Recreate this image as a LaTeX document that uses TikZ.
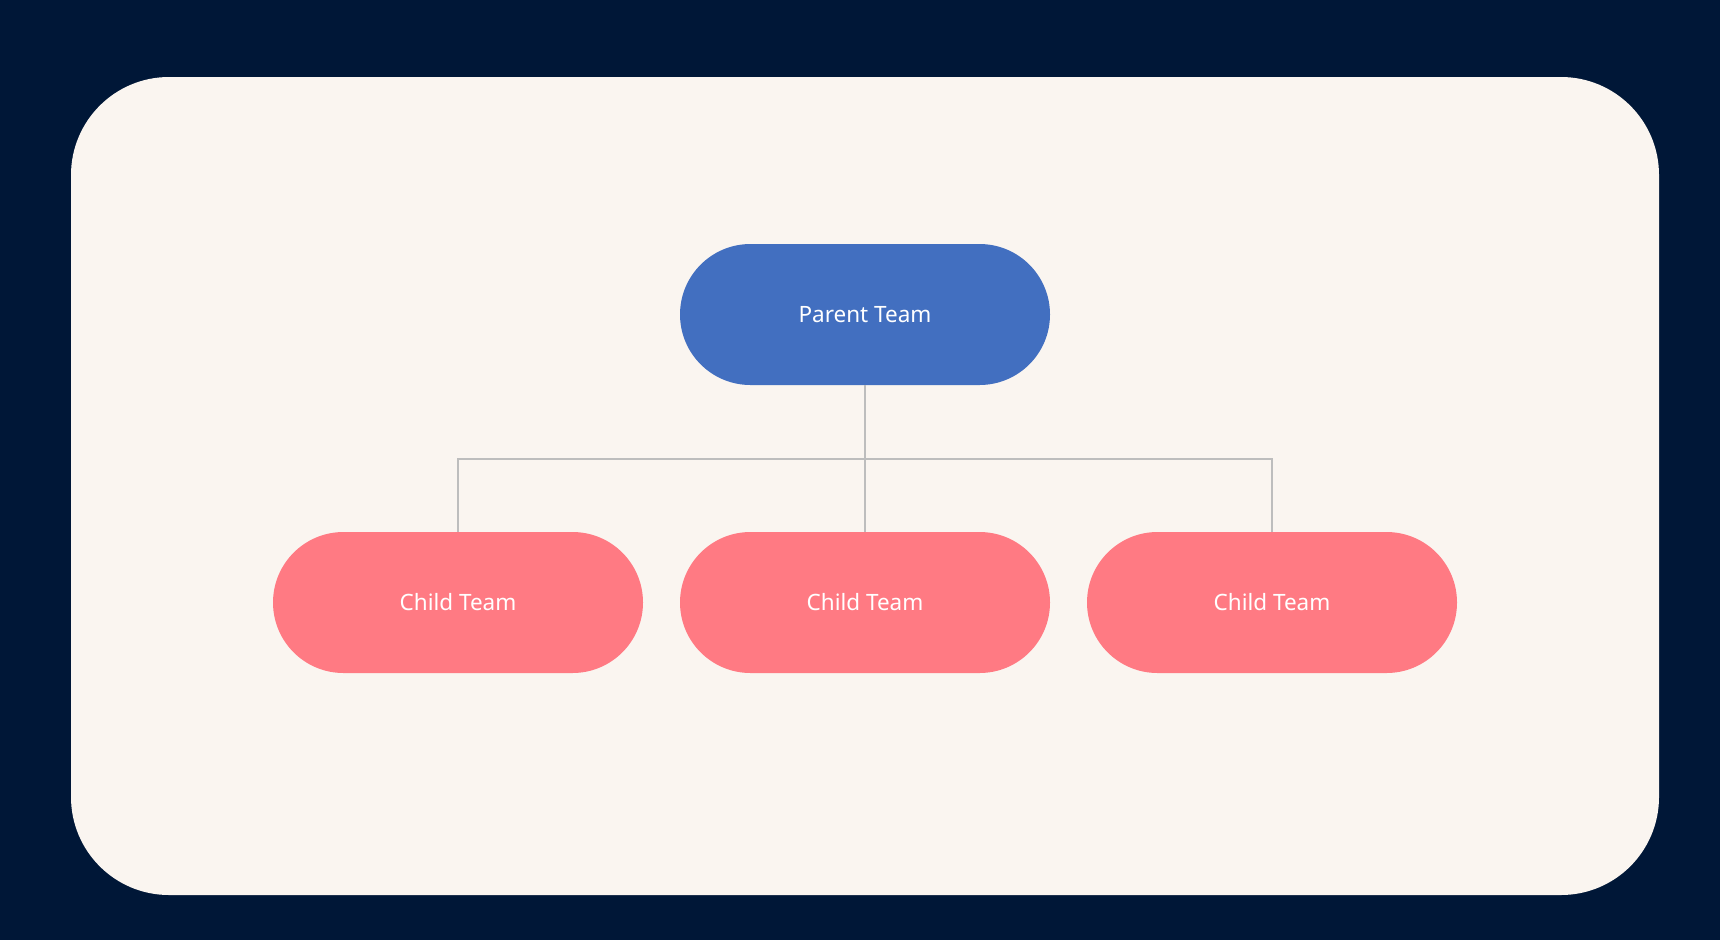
\documentclass[tikz,border=0pt]{standalone}
\usepackage{fontspec}
\setmainfont{Noto Sans}
\definecolor{navy}{HTML}{001737}
\definecolor{card}{HTML}{FAF5F0}
\definecolor{parentc}{HTML}{426FC0}
\definecolor{childc}{HTML}{FF7A83}
\definecolor{linec}{HTML}{BDBDBD}
\begin{document}
\begin{tikzpicture}[x=1pt,y=-1pt,
  pill/.style={rounded corners=70.5pt, minimum width=370pt, minimum height=141pt, inner sep=0pt, text=white, font=\fontsize{22.5}{27}\selectfont},
  parentbox/.style={pill, fill=parentc},
  childbox/.style={pill, fill=childc},
  conn/.style={draw=linec, line width=1.8pt}]
\fill[navy] (0,0) rectangle (1720,940);
\useasboundingbox (0,0) rectangle (1720,940);
\fill[card, rounded corners=98pt] (71,77) rectangle (1659,895);
\node[parentbox] (p) at (865,314.5) {Parent Team};
\node[childbox] (c1) at (458,602.5) {Child Team};
\node[childbox] (c2) at (865,602.5) {Child Team};
\node[childbox] (c3) at (1272,602.5) {Child Team};
\coordinate (j) at (865,459);
\draw[conn] (p.south) -- (j);
\draw[conn] (c1.north) |- (j) -| (c3.north);
\draw[conn] (j) -- (c2.north);
\end{tikzpicture}
\end{document}
